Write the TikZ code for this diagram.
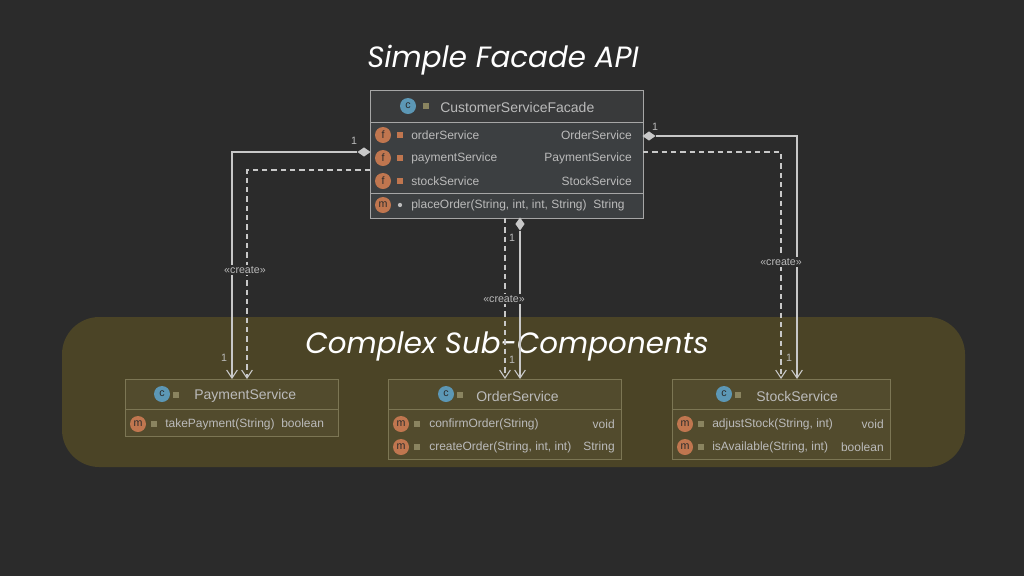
\documentclass[tikz,border=0pt]{standalone}
\usepackage{fontspec}
\setmainfont{Liberation Sans}
\newfontfamily\titlefont{Poppins}
\usetikzlibrary{arrows.meta,shapes.geometric}
\definecolor{bg}{HTML}{2B2B2B}
\definecolor{olive}{HTML}{4B4426}
\definecolor{fbox}{HTML}{3C3F41}
\definecolor{fhead}{HTML}{393A3B}
\definecolor{sbox}{HTML}{524B2D}
\definecolor{sline}{HTML}{7C7654}
\definecolor{txt}{HTML}{BBBBBB}
\definecolor{ico}{HTML}{C0764F}
\definecolor{icoc}{HTML}{5C97B5}
\definecolor{ln}{HTML}{C8C8C8}
\definecolor{lock}{HTML}{8A8460}
\tikzset{
 t/.style={text=txt,font=\fontsize{9}{10}\selectfont,inner sep=0,anchor=west},
 tr/.style={t,anchor=east},
 hd/.style={text=txt,font=\fontsize{10.5}{12}\selectfont,inner sep=0},
 ic/.style={circle,fill=ico,minimum size=12pt,inner sep=0,text=bg,font=\fontsize{8}{8}\selectfont},
 icc/.style={ic,fill=icoc},
 comp/.style={draw=ln,line width=0.8pt,-{Straight Barb[length=6pt,width=8pt]}},
 dep/.style={comp,dash pattern=on 4pt off 3pt},
 dia/.style={diamond,fill=ln,minimum width=10pt,minimum height=7pt,inner sep=0},
 lbl/.style={text=txt,font=\fontsize{8}{9}\selectfont,inner sep=1pt},
 title/.style={text=white,font=\titlefont\itshape\fontsize{22}{24}\selectfont}
}
\begin{document}
\begin{tikzpicture}[x=0.75pt,y=-0.75pt]
\fill[bg] (0,0) rectangle (1024,576);
\useasboundingbox (0,0) rectangle (1024,576);
\fill[olive,rounded corners=28pt] (62,317) rectangle (965,467);
\node[title] (t1) at (503,60) {Simple Facade API};
\node[title] (t2) at (507,346) {Complex Sub-Components};
% facade
\fill[fbox] (370,90) rectangle (643,218);
\fill[fhead] (370,90) rectangle (643,122);
\draw[gray!70,line width=0.6pt] (370,90) rectangle (643,218) (370,122)--(643,122) (370,193)--(643,193);
\node[icc] (fi) at (408,106) {c};
\fill[lock] (423,103) rectangle (429,109);
\node[hd,anchor=west] (fn) at (440,107) {CustomerServiceFacade};
\foreach \y/\a/\b in {135/orderService/OrderService,158/paymentService/PaymentService,181/stockService/StockService}{
 \node[ic] at (383,\y) {f};
 \fill[ico] (397,\y-3) rectangle (403,\y+3);
 \node[t] at (411,\y) {\a};
 \node[tr] at (632,\y) {\b};
}
\node[ic] (fm) at (383,205) {m};
\fill[txt] (400,205) circle (1.6pt);
\node[t] (fmn) at (411,205) {placeOrder(String, int, int, String)\ \ String};
% sub boxes
\foreach \n/\xa/\xb/\yb in {pay/125/338/436,ord/388/621/459,sto/672/890/459}{
 \fill[sbox] (\xa,379) rectangle (\xb,\yb);
 \draw[sline,line width=0.6pt] (\xa,379) rectangle (\xb,\yb) (\xa,409)--(\xb,409);
 \coordinate (\n) at ({(\xa+\xb)/2},379);
}
\node[icc] at (162,394) {c}; \fill[lock] (173,392) rectangle (179,398); \node[hd,anchor=west] at (194,396) {PaymentService};
\node[ic] at (138,424) {m}; \fill[lock] (151,421) rectangle (157,427); \node[t] at (165,424) {takePayment(String)\ \ boolean};
\node[icc] at (446,394) {c}; \fill[lock] (457,392) rectangle (463,398); \node[hd,anchor=west] at (476,396) {OrderService};
\node[ic] at (401,424) {m}; \fill[lock] (414,421) rectangle (420,427); \node[t] at (429,424) {confirmOrder(String)}; \node[tr] at (615,424) {void};
\node[ic] at (401,447) {m}; \fill[lock] (414,444) rectangle (420,450); \node[t] at (429,447) {createOrder(String, int, int)}; \node[tr] at (615,447) {String};
\node[icc] at (724,394) {c}; \fill[lock] (735,392) rectangle (741,398); \node[hd,anchor=west] at (756,396) {StockService};
\node[ic] at (685,424) {m}; \fill[lock] (698,421) rectangle (704,427); \node[t] at (712,424) {adjustStock(String, int)}; \node[tr] at (884,424) {void};
\node[ic] at (685,447) {m}; \fill[lock] (698,444) rectangle (704,450); \node[t] at (712,447) {isAvailable(String, int)}; \node[tr] at (884,447) {boolean};
% connectors
\coordinate (pa) at (232,379); \coordinate (pd) at (247,379);
\coordinate (oa) at (520,379); \coordinate (od) at (505,379);
\coordinate (sa) at (797,379); \coordinate (sd) at (781,379);
\node[dia] (d1) at (364,152) {};
\node[dia] (d2) at (649,136) {};
\node[dia,minimum width=7pt,minimum height=10pt] (d3) at (520,224) {};
\draw[comp] (d1.west) -| (pa);
\draw[comp] (d2.east) -| (sa);
\draw[comp] (d3.south) -- (oa);
\coordinate (e1) at (370,170); \coordinate (e2) at (643,152); \coordinate (e3) at (505,218);
\draw[dep] (e1) -| (pd);
\draw[dep] (e2) -| (sd);
\draw[dep] (e3) -- (od);
\node[lbl] at (354,141) {1}; \node[lbl] at (224,358) {1};
\node[lbl] at (655,127) {1}; \node[lbl] at (789,358) {1};
\node[lbl] at (512,238) {1}; \node[lbl] at (512,360) {1};
\node[lbl,fill=bg] at (245,270) {«create»};
\node[lbl,fill=bg] at (781,262) {«create»};
\node[lbl,fill=bg] at (504,299) {«create»};
\end{tikzpicture}
\end{document}
